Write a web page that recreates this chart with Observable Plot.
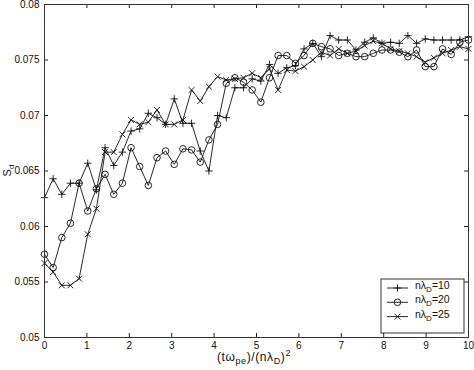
<!DOCTYPE html>
<html><head><meta charset="utf-8">
<script src="https://cdn.jsdelivr.net/npm/d3@7"></script>
<script src="https://cdn.jsdelivr.net/npm/@observablehq/plot@0.6"></script>
<style>
html,body{margin:0;padding:0;background:#fff;}
#chart svg{display:block;}
</style>
</head><body><div id="chart"></div>
<script>
// sample times (t*omega_pe)/(n*lambda_D)^2
const tValues = [0, 0.204, 0.408, 0.612, 0.816, 1.020, 1.224, 1.429, 1.633, 1.837,
  2.041, 2.245, 2.449, 2.653, 2.857, 3.061, 3.265, 3.469, 3.673, 3.878,
  4.082, 4.286, 4.490, 4.694, 4.898, 5.102, 5.306, 5.510, 5.714, 5.918,
  6.122, 6.327, 6.531, 6.735, 6.939, 7.143, 7.347, 7.551, 7.755, 7.959,
  8.163, 8.367, 8.571, 8.776, 8.980, 9.184, 9.388, 9.592, 9.796, 10];

const sN10 = [0.0626, 0.0643, 0.0629, 0.0639, 0.0639, 0.0657, 0.0633, 0.0671, 0.0655, 0.0667,
  0.0686, 0.0688, 0.0702, 0.0698, 0.0692, 0.0715, 0.0693, 0.0693, 0.0668, 0.0650,
  0.0700, 0.0698, 0.0725, 0.0725, 0.0733, 0.0731, 0.0746, 0.0738, 0.0743, 0.0745,
  0.0760, 0.0765, 0.0753, 0.0772, 0.0768, 0.0768, 0.0759, 0.0766, 0.0770, 0.0765,
  0.0766, 0.0765, 0.0772, 0.0765, 0.0769, 0.0768, 0.0768, 0.0768, 0.0768, 0.0771];

const sN20 = [0.0575, 0.0563, 0.0590, 0.0603, 0.0639, 0.0614, 0.0634, 0.0647, 0.0629, 0.0639,
  0.0671, 0.0654, 0.0637, 0.0662, 0.0668, 0.0656, 0.0670, 0.0669, 0.0658, 0.0678,
  0.0692, 0.0729, 0.0734, 0.0730, 0.0723, 0.0712, 0.0734, 0.0754, 0.0754, 0.0747,
  0.0754, 0.0765, 0.0762, 0.0760, 0.0754, 0.0756, 0.0753, 0.0753, 0.0756, 0.0759,
  0.0759, 0.0757, 0.0753, 0.0759, 0.0744, 0.0744, 0.0760, 0.0755, 0.0766, 0.0768];

const sN25 = [0.0567, 0.0559, 0.0547, 0.0547, 0.0553, 0.0593, 0.0616, 0.0667, 0.0667, 0.0683,
  0.0696, 0.0692, 0.0694, 0.0705, 0.0692, 0.0692, 0.0696, 0.0723, 0.0713, 0.0726,
  0.0735, 0.0732, 0.0733, 0.0734, 0.0738, 0.0734, 0.0742, 0.0723, 0.0741, 0.0740,
  0.0744, 0.0750, 0.0757, 0.0754, 0.0760, 0.0756, 0.0758, 0.0763, 0.0767, 0.0765,
  0.0760, 0.0758, 0.0756, 0.0753, 0.0748, 0.0752, 0.0756, 0.0759, 0.0762, 0.0760];

const seriesLabels = ["10", "20", "25"];
const seriesSymbols = ["plus", "circle", "times"];
const xTicks = [0, 1, 2, 3, 4, 5, 6, 7, 8, 9, 10];
const yTicks = [0.05, 0.055, 0.06, 0.065, 0.07, 0.075, 0.08];

const W = 474, H = 370, mL = 44, mR = 6, mT = 4, mB = 33;
const innerW = W - mL - mR, innerH = H - mT - mB, tk = 4;
const FONT = "'Liberation Sans', Arial, Helvetica, sans-serif";
const FS = 10;

const seriesValues = [sN10, sN20, sN25];
const rows = seriesValues.map((vals, k) => vals.map((s, i) => ({t: tValues[i], s, k})));
const symR = [2.5, 3.3, 2.8];

const marks = [
  Plot.axisX({ticks: xTicks, tickSize: 0, tickPadding: 4, tickFormat: d => String(d), label: null}),
  Plot.axisY({ticks: yTicks, tickSize: 0, tickPadding: 5, tickFormat: d => String(d), label: null}),
  Plot.tickX(xTicks, {x: d => d, insetTop: innerH - tk, stroke: "#222"}),
  Plot.tickX(xTicks, {x: d => d, insetBottom: innerH - tk, stroke: "#222"}),
  Plot.tickY(yTicks, {y: d => d, insetRight: innerW - tk, stroke: "#222"}),
  Plot.tickY(yTicks, {y: d => d, insetLeft: innerW - tk, stroke: "#222"})
];
rows.forEach((data, k) => {
  marks.push(Plot.line(data, {x: "t", y: "s", stroke: "#111", strokeWidth: 0.9}));
  marks.push(Plot.dot(data, {x: "t", y: "s", symbol: () => seriesSymbols[k], r: symR[k], stroke: "#111", strokeWidth: 0.9, fill: "none"}));
});
marks.push(Plot.frame({stroke: "#333"}));

const plot = Plot.plot({
  width: W, height: H, marginLeft: mL, marginRight: mR, marginTop: mT, marginBottom: mB,
  style: {fontFamily: FONT, fontSize: FS + "px", color: "#111", background: "white", overflow: "visible"},
  x: {domain: [0, 10]},
  y: {domain: [0.05, 0.08]},
  symbol: {domain: seriesSymbols, range: seriesSymbols},
  marks
});
document.getElementById("chart").appendChild(plot);

const svg = d3.select(plot);
// x label
const LFS = 12, LSUB = 9;
const xl = svg.append("text").attr("x", mL + innerW / 2 - 2).attr("y", 361)
  .attr("text-anchor", "middle").attr("font-family", FONT).attr("font-size", LFS)
  .attr("letter-spacing", 0.6).attr("fill", "#111");
xl.append("tspan").text("(tω");
xl.append("tspan").attr("dy", 3).attr("font-size", LSUB).text("pe");
xl.append("tspan").attr("dy", -3).text(")/(nλ");
xl.append("tspan").attr("dy", 3).attr("font-size", LSUB).text("D");
xl.append("tspan").attr("dy", -3).text(")");
xl.append("tspan").attr("dy", -5).attr("font-size", LSUB).text("2");

// y label
const yl = svg.append("text").attr("transform", `translate(11,${mT + innerH / 2}) rotate(-90)`)
  .attr("text-anchor", "middle").attr("font-family", FONT).attr("font-size", 11).attr("fill", "#111");
yl.append("tspan").text("S");
yl.append("tspan").attr("dy", 3).attr("font-size", 8).text("d");

// legend
const lx = 381, ly = 279, lw = 83, lh = 54;
const lg = svg.append("g");
lg.append("rect").attr("x", lx).attr("y", ly).attr("width", lw).attr("height", lh)
  .attr("fill", "white").attr("stroke", "#333");
const symMap = {plus: d3.symbolPlus, circle: d3.symbolCircle, times: d3.symbolTimes};
seriesLabels.forEach((lab, k) => {
  const cy = ly + 9 + k * 14.3;
  lg.append("line").attr("x1", lx + 6).attr("x2", lx + 27).attr("y1", cy).attr("y2", cy)
    .attr("stroke", "#111").attr("stroke-width", 0.9);
  lg.append("path").attr("transform", `translate(${lx + 16.5},${cy})`)
    .attr("d", d3.symbol(symMap[seriesSymbols[k]], Math.PI * symR[k] * symR[k])())
    .attr("fill", "none").attr("stroke", "#111").attr("stroke-width", 0.9);
  const tx = lg.append("text").attr("x", lx + 34).attr("y", cy + 1)
    .attr("text-anchor", "start")
    .attr("font-family", FONT).attr("font-size", 10.5).attr("fill", "#111");
  tx.append("tspan").text("nλ");
  tx.append("tspan").attr("dy", 3).attr("font-size", 8).text("D");
  tx.append("tspan").attr("dy", -3).text("=" + lab);
});
</script>
</body></html>
